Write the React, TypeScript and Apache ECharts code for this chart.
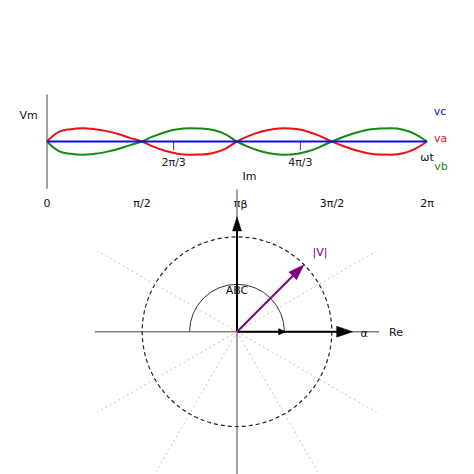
import React, { useEffect, useRef } from "react";
import * as echarts from "echarts";

// ---------- waveform data (x in units of π, step π/16) ----------
const phaseX = [
  0, 0.0625, 0.125, 0.1875, 0.25, 0.3125, 0.375, 0.4375, 0.5,
  0.5625, 0.625, 0.6875, 0.75, 0.8125, 0.875, 0.9375, 1,
  1.0625, 1.125, 1.1875, 1.25, 1.3125, 1.375, 1.4375, 1.5,
  1.5625, 1.625, 1.6875, 1.75, 1.8125, 1.875, 1.9375, 2,
];
const vaValues = [
  0, 0.72, 0.93, 1.0, 0.93, 0.78, 0.56, 0.27, 0,
  -0.4, -0.72, -0.92, -0.99, -0.98, -0.86, -0.55, 0,
  0.42, 0.73, 0.93, 1.0, 0.94, 0.74, 0.4, 0,
  -0.36, -0.66, -0.88, -0.98, -0.99, -0.88, -0.55, 0,
];
const vbValues = [
  0, -0.72, -0.93, -1.0, -0.93, -0.78, -0.56, -0.27, 0,
  0.4, 0.72, 0.92, 0.99, 0.98, 0.86, 0.55, 0,
  -0.42, -0.73, -0.93, -1.0, -0.94, -0.74, -0.4, 0,
  0.36, 0.66, 0.88, 0.98, 0.99, 0.88, 0.55, 0,
];
const vcValues = [
  0, 0, 0, 0, 0, 0, 0, 0, 0, 0, 0, 0, 0, 0, 0, 0, 0,
  0, 0, 0, 0, 0, 0, 0, 0, 0, 0, 0, 0, 0, 0, 0, 0,
];
const phaseTickLabels = ["0", "π/2", "π", "3π/2", "2π"];
const markerX = [2 / 3, 4 / 3];
const markerDepth = [-0.68, -0.68];
const markerLabels = ["2π/3", "4π/3"];

// ---------- phasor diagram data ----------
const spokeAngles = [30, 150, 210, 240, 300, 330];
const spokeLength = 1.7;
const axisExtent = 1.5;
const dashedRadius = 1;
const arcRadius = 0.5;
const phasorAngles = [0, 90, 45];
const phasorLengths = [1.22, 1.21, 1.0];
const midArrowAt = 0.52;

const FONT = "DejaVu Sans";
const PURPLE = "#800080";
const RED = "#f01010";
const GREEN = "#138a13";
const BLUE = "#1010d8";

function pt(api: any, r: number, deg: number) {
  const a = (deg * Math.PI) / 180;
  return api.coord([r * Math.cos(a), r * Math.sin(a)]);
}

function arrowHead(tip: number[], dir: number[], len: number, half: number) {
  const bx = tip[0] - dir[0] * len;
  const by = tip[1] - dir[1] * len;
  const px = -dir[1];
  const py = dir[0];
  return [
    [tip[0], tip[1]],
    [bx + px * half, by + py * half],
    [bx - px * half, by - py * half],
  ];
}

function renderPhasor(params: any, api: any) {
  const c = api.coord([0, 0]);
  const unit = api.size([1, 0])[0];
  const children: any[] = [];
  children.push({
    type: "line",
    shape: { x1: api.coord([-axisExtent, 0])[0], y1: c[1], x2: api.coord([axisExtent, 0])[0], y2: c[1] },
    style: { stroke: "#808080", lineWidth: 1.5 },
  });
  children.push({
    type: "line",
    shape: { x1: c[0], y1: api.coord([0, -axisExtent])[1], x2: c[0], y2: api.coord([0, axisExtent])[1] },
    style: { stroke: "#808080", lineWidth: 1.5 },
  });
  spokeAngles.forEach((ang) => {
    const e = pt(api, spokeLength, ang);
    children.push({
      type: "line",
      shape: { x1: c[0], y1: c[1], x2: e[0], y2: e[1] },
      style: { stroke: "#c4c4c4", lineWidth: 1, lineDash: [2, 3] },
    });
  });
  children.push({
    type: "circle",
    shape: { cx: c[0], cy: c[1], r: dashedRadius * unit },
    style: { stroke: "#222", fill: "none", lineWidth: 1.2, lineDash: [4, 3] },
  });
  children.push({
    type: "arc",
    shape: { cx: c[0], cy: c[1], r: arcRadius * unit, startAngle: Math.PI, endAngle: 2 * Math.PI, clockwise: true },
    style: { stroke: "#333", fill: "none", lineWidth: 1 },
  });
  phasorAngles.forEach((ang, i) => {
    const tip = pt(api, phasorLengths[i], ang);
    const a = (ang * Math.PI) / 180;
    const dir = [Math.cos(a), -Math.sin(a)];
    const color = i === 2 ? PURPLE : "#000";
    const len = i === 1 ? 14 : 16;
    const half = i === 1 ? 4.5 : 5.5;
    children.push({
      type: "line",
      shape: { x1: c[0], y1: c[1], x2: tip[0] - dir[0] * len * 0.6, y2: tip[1] - dir[1] * len * 0.6 },
      style: { stroke: color, lineWidth: 2 },
    });
    children.push({
      type: "polygon",
      shape: { points: arrowHead(tip, dir, len, half) },
      style: { fill: color, stroke: color, lineWidth: 0.5 },
    });
    if (i === 0) {
      const mid = pt(api, midArrowAt, ang);
      children.push({
        type: "polygon",
        shape: { points: arrowHead(mid, dir, 8, 3.5) },
        style: { fill: color },
      });
    }
  });
  return { type: "group", children };
}

function renderMarkers(params: any, api: any) {
  const x = api.value(0);
  const y = api.value(1);
  const top = api.coord([x, 0]);
  const bot = api.coord([x, y]);
  return {
    type: "group",
    children: [
      {
        type: "line",
        shape: { x1: top[0], y1: top[1], x2: bot[0], y2: bot[1] },
        style: { stroke: "#444", lineWidth: 1 },
      },
      {
        type: "text",
        x: bot[0],
        y: bot[1] + 11.5,
        style: {
          text: markerLabels[params.dataIndex],
          fill: "#222",
          font: `11px "${FONT}"`,
          textAlign: "center",
          textVerticalAlign: "middle",
        },
      },
    ],
  };
}

function label(text: string, x: number, y: number, fill = "#111") {
  return {
    type: "text",
    x,
    y,
    z: 100,
    style: {
      text,
      fill,
      font: `11px "${FONT}"`,
      textAlign: "center",
      textVerticalAlign: "middle",
    },
  };
}

export default function App() {
  const ref = useRef<HTMLDivElement>(null);
  useEffect(() => {
    if (!ref.current) return;
    const chart = echarts.init(ref.current, undefined, { renderer: "svg" });
    const pair = (ys: number[]) => phaseX.map((x, i) => [x, ys[i]]);
    chart.setOption({
      animation: false,
      backgroundColor: "#fff",
      textStyle: { fontFamily: FONT },
      grid: [
        { left: 47, top: 95, width: 380, height: 93 },
        { left: 0, right: 0, top: 142, bottom: 0 },
      ],
      xAxis: [
        {
          gridIndex: 0,
          type: "value",
          min: 0,
          max: 2,
          interval: 0.5,
          axisLine: { show: false },
          axisTick: { show: false },
          splitLine: { show: false },
          axisLabel: {
            margin: 10,
            fontSize: 11,
            fontFamily: FONT,
            color: "#111",
            showMinLabel: true,
            showMaxLabel: true,
            formatter: (v: number) => phaseTickLabels[Math.round(v / 0.5)] ?? "",
          },
        },
        { gridIndex: 1, type: "value", min: -2.5, max: 2.5, show: false },
      ],
      yAxis: [
        {
          gridIndex: 0,
          type: "value",
          min: -3.5,
          max: 3.5,
          axisLine: { show: true, onZero: false, lineStyle: { color: "#808080", width: 1.5 } },
          axisTick: { show: false },
          axisLabel: { show: false },
          splitLine: { show: false },
        },
        { gridIndex: 1, type: "value", min: -1.5, max: 2, show: false },
      ],
      series: [
        {
          type: "custom",
          xAxisIndex: 0,
          yAxisIndex: 0,
          silent: true,
          data: markerX.map((x, i) => [x, markerDepth[i]]),
          renderItem: renderMarkers,
        },
        {
          name: "va",
          type: "line",
          xAxisIndex: 0,
          yAxisIndex: 0,
          data: pair(vaValues),
          smooth: 0.4,
          showSymbol: false,
          lineStyle: { color: RED, width: 2 },
        },
        {
          name: "vb",
          type: "line",
          xAxisIndex: 0,
          yAxisIndex: 0,
          data: pair(vbValues),
          smooth: 0.4,
          showSymbol: false,
          lineStyle: { color: GREEN, width: 2 },
        },
        {
          name: "vc",
          type: "line",
          xAxisIndex: 0,
          yAxisIndex: 0,
          data: pair(vcValues),
          showSymbol: false,
          lineStyle: { color: BLUE, width: 2 },
        },
        {
          type: "custom",
          xAxisIndex: 1,
          yAxisIndex: 1,
          silent: true,
          clip: false,
          data: [[0, 0]],
          renderItem: renderPhasor,
        },
      ],
      graphic: [
        label("Vm", 28.5, 115),
        label("vc", 440, 111, BLUE),
        label("va", 440.5, 138, RED),
        label("ωt", 427, 157),
        label("vb", 441, 166, GREEN),
        label("Im", 249.5, 176),
        label("β", 244, 204),
        label("|V|", 320, 252, PURPLE),
        label("ABC", 237, 290),
        label("α", 364, 333),
        label("Re", 396, 332),
      ],
    });
    return () => chart.dispose();
  }, []);
  return <div ref={ref} style={{ position: "fixed", left: 0, top: 0, width: 474, height: 474 }} />;
}
